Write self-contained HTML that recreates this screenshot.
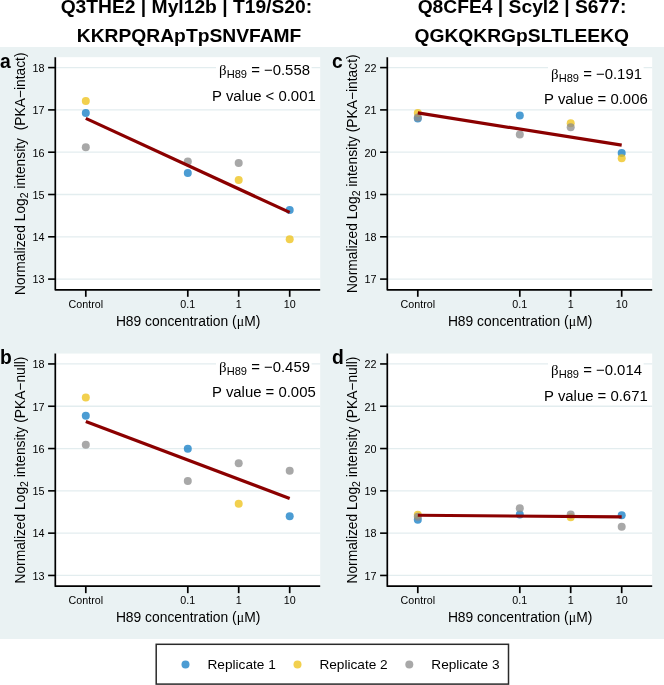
<!DOCTYPE html>
<html lang="en"><head><meta charset="utf-8"><title>H89 dose response</title>
<style>
html,body{margin:0;padding:0;background:#fff;}
svg{display:block;font-family:"Liberation Sans", sans-serif;fill:#000;}
svg text{fill:#000;}
</style></head><body>
<svg width="664" height="685" viewBox="0 0 664 685">
<rect x="0" y="0" width="664" height="685" fill="#fff"/>
<rect x="0" y="47" width="664" height="592" fill="#eaf2f3"/>
<text x="186.4" y="13.2" font-size="19.25" font-weight="bold" text-anchor="middle">Q3THE2 | Myl12b | T19/S20:</text>
<text x="189.1" y="41.7" font-size="19.25" font-weight="bold" text-anchor="middle">KKRPQRApTpSNVFAMF</text>
<text x="522" y="13.2" font-size="19.25" font-weight="bold" text-anchor="middle">Q8CFE4 | Scyl2 | S677:</text>
<text x="521.8" y="41.7" font-size="19.25" font-weight="bold" text-anchor="middle">QGKQKRGpSLTLEEKQ</text>

<g transform="translate(0,47)">
<rect x="55.3" y="10.2" width="264.9" height="232.7" fill="#fff"/>
<line x1="55.3" x2="320.2" y1="20.60" y2="20.60" stroke="#e3edef" stroke-width="1.3"/>
<line x1="55.3" x2="320.2" y1="62.90" y2="62.90" stroke="#e3edef" stroke-width="1.3"/>
<line x1="55.3" x2="320.2" y1="105.20" y2="105.20" stroke="#e3edef" stroke-width="1.3"/>
<line x1="55.3" x2="320.2" y1="147.50" y2="147.50" stroke="#e3edef" stroke-width="1.3"/>
<line x1="55.3" x2="320.2" y1="189.80" y2="189.80" stroke="#e3edef" stroke-width="1.3"/>
<line x1="55.3" x2="320.2" y1="232.10" y2="232.10" stroke="#e3edef" stroke-width="1.3"/>
<rect x="216" y="14.4" width="95.6" height="19" fill="#fff"/>
<circle cx="85.8" cy="66.1" r="4" fill="#0f7bc4" fill-opacity="0.75"/>
<circle cx="85.8" cy="53.9" r="4" fill="#eec013" fill-opacity="0.75"/>
<circle cx="85.8" cy="100.2" r="4" fill="#8b8b8b" fill-opacity="0.75"/>
<circle cx="187.8" cy="125.9" r="4" fill="#0f7bc4" fill-opacity="0.75"/>
<circle cx="187.8" cy="114.6" r="4" fill="#8b8b8b" fill-opacity="0.75"/>
<circle cx="238.7" cy="132.9" r="4" fill="#eec013" fill-opacity="0.75"/>
<circle cx="238.7" cy="116.0" r="4" fill="#8b8b8b" fill-opacity="0.75"/>
<circle cx="289.7" cy="163.0" r="4" fill="#0f7bc4" fill-opacity="0.75"/>
<circle cx="289.7" cy="192.2" r="4" fill="#eec013" fill-opacity="0.75"/>
<line x1="85.8" y1="71.4" x2="289.7" y2="165.4" stroke="#8b0000" stroke-width="3.2"/>
<path d="M55.3 10.2V242.85H320.2" fill="none" stroke="#000" stroke-width="1.7" stroke-linejoin="round"/>
<line x1="48.1" x2="55.3" y1="20.60" y2="20.60" stroke="#000" stroke-width="1.6"/>
<text x="44.4" y="24.95" font-size="10.8" text-anchor="end">18</text>
<line x1="48.1" x2="55.3" y1="62.90" y2="62.90" stroke="#000" stroke-width="1.6"/>
<text x="44.4" y="67.25" font-size="10.8" text-anchor="end">17</text>
<line x1="48.1" x2="55.3" y1="105.20" y2="105.20" stroke="#000" stroke-width="1.6"/>
<text x="44.4" y="109.55" font-size="10.8" text-anchor="end">16</text>
<line x1="48.1" x2="55.3" y1="147.50" y2="147.50" stroke="#000" stroke-width="1.6"/>
<text x="44.4" y="151.85" font-size="10.8" text-anchor="end">15</text>
<line x1="48.1" x2="55.3" y1="189.80" y2="189.80" stroke="#000" stroke-width="1.6"/>
<text x="44.4" y="194.15" font-size="10.8" text-anchor="end">14</text>
<line x1="48.1" x2="55.3" y1="232.10" y2="232.10" stroke="#000" stroke-width="1.6"/>
<text x="44.4" y="236.45" font-size="10.8" text-anchor="end">13</text>
<line x1="85.8" x2="85.8" y1="242.85" y2="249.8" stroke="#000" stroke-width="1.7"/>
<text x="85.8" y="260.9" font-size="10.7" text-anchor="middle">Control</text>
<line x1="187.8" x2="187.8" y1="242.85" y2="249.8" stroke="#000" stroke-width="1.7"/>
<text x="187.8" y="260.9" font-size="10.7" text-anchor="middle">0.1</text>
<line x1="238.7" x2="238.7" y1="242.85" y2="249.8" stroke="#000" stroke-width="1.7"/>
<text x="238.7" y="260.9" font-size="10.7" text-anchor="middle">1</text>
<line x1="289.7" x2="289.7" y1="242.85" y2="249.8" stroke="#000" stroke-width="1.7"/>
<text x="289.7" y="260.9" font-size="10.7" text-anchor="middle">10</text>
<text x="188.1" y="278.5" font-size="13.85" text-anchor="middle">H89 concentration (<tspan font-family='"Liberation Serif", serif'>μ</tspan>M)</text>
<text transform="translate(25.0,126.7) rotate(-90)" font-size="13.8" text-anchor="middle">Normalized Log<tspan font-size="10.4" dy="2.7">2</tspan><tspan dy="-2.7"> intensity &#160;(PKA−intact)</tspan></text>
<text x="0.1" y="20.5" font-size="19.3" font-weight="bold">a</text>
<text x="219.1" y="27.9" font-size="14.9"><tspan font-family='"Liberation Serif", serif'>β</tspan><tspan font-size="11.1" dy="3.3">H89</tspan><tspan dy="-3.3"> = −0.558</tspan></text>
<text x="263.9" y="53.5" font-size="14.9" text-anchor="middle">P value &lt; 0.001</text>
</g>
<g transform="translate(0,343.35)">
<rect x="55.3" y="10.2" width="264.9" height="232.7" fill="#fff"/>
<line x1="55.3" x2="320.2" y1="20.60" y2="20.60" stroke="#e3edef" stroke-width="1.3"/>
<line x1="55.3" x2="320.2" y1="62.90" y2="62.90" stroke="#e3edef" stroke-width="1.3"/>
<line x1="55.3" x2="320.2" y1="105.20" y2="105.20" stroke="#e3edef" stroke-width="1.3"/>
<line x1="55.3" x2="320.2" y1="147.50" y2="147.50" stroke="#e3edef" stroke-width="1.3"/>
<line x1="55.3" x2="320.2" y1="189.80" y2="189.80" stroke="#e3edef" stroke-width="1.3"/>
<line x1="55.3" x2="320.2" y1="232.10" y2="232.10" stroke="#e3edef" stroke-width="1.3"/>
<rect x="216" y="14.7" width="95.6" height="19" fill="#fff"/>
<circle cx="85.8" cy="72.5" r="4" fill="#0f7bc4" fill-opacity="0.75"/>
<circle cx="85.8" cy="54.1" r="4" fill="#eec013" fill-opacity="0.75"/>
<circle cx="85.8" cy="101.3" r="4" fill="#8b8b8b" fill-opacity="0.75"/>
<circle cx="187.8" cy="105.5" r="4" fill="#0f7bc4" fill-opacity="0.75"/>
<circle cx="187.8" cy="137.6" r="4" fill="#8b8b8b" fill-opacity="0.75"/>
<circle cx="238.7" cy="160.3" r="4" fill="#eec013" fill-opacity="0.75"/>
<circle cx="238.7" cy="120.0" r="4" fill="#8b8b8b" fill-opacity="0.75"/>
<circle cx="289.7" cy="172.9" r="4" fill="#0f7bc4" fill-opacity="0.75"/>
<circle cx="289.7" cy="127.4" r="4" fill="#8b8b8b" fill-opacity="0.75"/>
<line x1="85.8" y1="78.2" x2="289.7" y2="155.2" stroke="#8b0000" stroke-width="3.2"/>
<path d="M55.3 10.2V242.85H320.2" fill="none" stroke="#000" stroke-width="1.7" stroke-linejoin="round"/>
<line x1="48.1" x2="55.3" y1="20.60" y2="20.60" stroke="#000" stroke-width="1.6"/>
<text x="44.4" y="24.95" font-size="10.8" text-anchor="end">18</text>
<line x1="48.1" x2="55.3" y1="62.90" y2="62.90" stroke="#000" stroke-width="1.6"/>
<text x="44.4" y="67.25" font-size="10.8" text-anchor="end">17</text>
<line x1="48.1" x2="55.3" y1="105.20" y2="105.20" stroke="#000" stroke-width="1.6"/>
<text x="44.4" y="109.55" font-size="10.8" text-anchor="end">16</text>
<line x1="48.1" x2="55.3" y1="147.50" y2="147.50" stroke="#000" stroke-width="1.6"/>
<text x="44.4" y="151.85" font-size="10.8" text-anchor="end">15</text>
<line x1="48.1" x2="55.3" y1="189.80" y2="189.80" stroke="#000" stroke-width="1.6"/>
<text x="44.4" y="194.15" font-size="10.8" text-anchor="end">14</text>
<line x1="48.1" x2="55.3" y1="232.10" y2="232.10" stroke="#000" stroke-width="1.6"/>
<text x="44.4" y="236.45" font-size="10.8" text-anchor="end">13</text>
<line x1="85.8" x2="85.8" y1="242.85" y2="249.8" stroke="#000" stroke-width="1.7"/>
<text x="85.8" y="260.9" font-size="10.7" text-anchor="middle">Control</text>
<line x1="187.8" x2="187.8" y1="242.85" y2="249.8" stroke="#000" stroke-width="1.7"/>
<text x="187.8" y="260.9" font-size="10.7" text-anchor="middle">0.1</text>
<line x1="238.7" x2="238.7" y1="242.85" y2="249.8" stroke="#000" stroke-width="1.7"/>
<text x="238.7" y="260.9" font-size="10.7" text-anchor="middle">1</text>
<line x1="289.7" x2="289.7" y1="242.85" y2="249.8" stroke="#000" stroke-width="1.7"/>
<text x="289.7" y="260.9" font-size="10.7" text-anchor="middle">10</text>
<text x="188.1" y="278.5" font-size="13.85" text-anchor="middle">H89 concentration (<tspan font-family='"Liberation Serif", serif'>μ</tspan>M)</text>
<text transform="translate(25.0,126.7) rotate(-90)" font-size="13.8" text-anchor="middle">Normalized Log<tspan font-size="10.4" dy="2.7">2</tspan><tspan dy="-2.7"> intensity (PKA−null)</tspan></text>
<text x="0.1" y="20.5" font-size="19.3" font-weight="bold">b</text>
<text x="219.1" y="28.2" font-size="14.9"><tspan font-family='"Liberation Serif", serif'>β</tspan><tspan font-size="11.1" dy="3.3">H89</tspan><tspan dy="-3.3"> = −0.459</tspan></text>
<text x="263.9" y="53.8" font-size="14.9" text-anchor="middle">P value = 0.005</text>
</g>
<g transform="translate(332,47)">
<rect x="55.3" y="10.2" width="264.9" height="232.7" fill="#fff"/>
<line x1="55.3" x2="320.2" y1="20.60" y2="20.60" stroke="#e3edef" stroke-width="1.3"/>
<line x1="55.3" x2="320.2" y1="62.90" y2="62.90" stroke="#e3edef" stroke-width="1.3"/>
<line x1="55.3" x2="320.2" y1="105.20" y2="105.20" stroke="#e3edef" stroke-width="1.3"/>
<line x1="55.3" x2="320.2" y1="147.50" y2="147.50" stroke="#e3edef" stroke-width="1.3"/>
<line x1="55.3" x2="320.2" y1="189.80" y2="189.80" stroke="#e3edef" stroke-width="1.3"/>
<line x1="55.3" x2="320.2" y1="232.10" y2="232.10" stroke="#e3edef" stroke-width="1.3"/>
<rect x="216" y="18.0" width="95.6" height="19" fill="#fff"/>
<circle cx="85.8" cy="71.6" r="4" fill="#0f7bc4" fill-opacity="0.75"/>
<circle cx="85.8" cy="66.0" r="4" fill="#eec013" fill-opacity="0.75"/>
<circle cx="85.8" cy="70.6" r="4" fill="#8b8b8b" fill-opacity="0.75"/>
<circle cx="187.8" cy="68.5" r="4" fill="#0f7bc4" fill-opacity="0.75"/>
<circle cx="187.8" cy="87.5" r="4" fill="#8b8b8b" fill-opacity="0.75"/>
<circle cx="238.7" cy="76.3" r="4" fill="#eec013" fill-opacity="0.75"/>
<circle cx="238.7" cy="80.3" r="4" fill="#8b8b8b" fill-opacity="0.75"/>
<circle cx="289.7" cy="105.9" r="4" fill="#0f7bc4" fill-opacity="0.75"/>
<circle cx="289.7" cy="111.3" r="4" fill="#eec013" fill-opacity="0.75"/>
<line x1="85.8" y1="65.9" x2="289.7" y2="98.2" stroke="#8b0000" stroke-width="3.2"/>
<path d="M55.3 10.2V242.85H320.2" fill="none" stroke="#000" stroke-width="1.7" stroke-linejoin="round"/>
<line x1="48.1" x2="55.3" y1="20.60" y2="20.60" stroke="#000" stroke-width="1.6"/>
<text x="44.4" y="24.95" font-size="10.8" text-anchor="end">22</text>
<line x1="48.1" x2="55.3" y1="62.90" y2="62.90" stroke="#000" stroke-width="1.6"/>
<text x="44.4" y="67.25" font-size="10.8" text-anchor="end">21</text>
<line x1="48.1" x2="55.3" y1="105.20" y2="105.20" stroke="#000" stroke-width="1.6"/>
<text x="44.4" y="109.55" font-size="10.8" text-anchor="end">20</text>
<line x1="48.1" x2="55.3" y1="147.50" y2="147.50" stroke="#000" stroke-width="1.6"/>
<text x="44.4" y="151.85" font-size="10.8" text-anchor="end">19</text>
<line x1="48.1" x2="55.3" y1="189.80" y2="189.80" stroke="#000" stroke-width="1.6"/>
<text x="44.4" y="194.15" font-size="10.8" text-anchor="end">18</text>
<line x1="48.1" x2="55.3" y1="232.10" y2="232.10" stroke="#000" stroke-width="1.6"/>
<text x="44.4" y="236.45" font-size="10.8" text-anchor="end">17</text>
<line x1="85.8" x2="85.8" y1="242.85" y2="249.8" stroke="#000" stroke-width="1.7"/>
<text x="85.8" y="260.9" font-size="10.7" text-anchor="middle">Control</text>
<line x1="187.8" x2="187.8" y1="242.85" y2="249.8" stroke="#000" stroke-width="1.7"/>
<text x="187.8" y="260.9" font-size="10.7" text-anchor="middle">0.1</text>
<line x1="238.7" x2="238.7" y1="242.85" y2="249.8" stroke="#000" stroke-width="1.7"/>
<text x="238.7" y="260.9" font-size="10.7" text-anchor="middle">1</text>
<line x1="289.7" x2="289.7" y1="242.85" y2="249.8" stroke="#000" stroke-width="1.7"/>
<text x="289.7" y="260.9" font-size="10.7" text-anchor="middle">10</text>
<text x="188.1" y="278.5" font-size="13.85" text-anchor="middle">H89 concentration (<tspan font-family='"Liberation Serif", serif'>μ</tspan>M)</text>
<text transform="translate(25.0,126.7) rotate(-90)" font-size="13.8" text-anchor="middle">Normalized Log<tspan font-size="10.4" dy="2.7">2</tspan><tspan dy="-2.7"> intensity (PKA−intact)</tspan></text>
<text x="0.1" y="20.5" font-size="19.3" font-weight="bold">c</text>
<text x="219.1" y="31.5" font-size="14.9"><tspan font-family='"Liberation Serif", serif'>β</tspan><tspan font-size="11.1" dy="3.3">H89</tspan><tspan dy="-3.3"> = −0.191</tspan></text>
<text x="263.9" y="57.1" font-size="14.9" text-anchor="middle">P value = 0.006</text>
</g>
<g transform="translate(332,343.35)">
<rect x="55.3" y="10.2" width="264.9" height="232.7" fill="#fff"/>
<line x1="55.3" x2="320.2" y1="20.60" y2="20.60" stroke="#e3edef" stroke-width="1.3"/>
<line x1="55.3" x2="320.2" y1="62.90" y2="62.90" stroke="#e3edef" stroke-width="1.3"/>
<line x1="55.3" x2="320.2" y1="105.20" y2="105.20" stroke="#e3edef" stroke-width="1.3"/>
<line x1="55.3" x2="320.2" y1="147.50" y2="147.50" stroke="#e3edef" stroke-width="1.3"/>
<line x1="55.3" x2="320.2" y1="189.80" y2="189.80" stroke="#e3edef" stroke-width="1.3"/>
<line x1="55.3" x2="320.2" y1="232.10" y2="232.10" stroke="#e3edef" stroke-width="1.3"/>
<rect x="216" y="18.3" width="95.6" height="19" fill="#fff"/>
<circle cx="85.8" cy="176.4" r="4" fill="#0f7bc4" fill-opacity="0.75"/>
<circle cx="85.8" cy="171.4" r="4" fill="#eec013" fill-opacity="0.75"/>
<circle cx="85.8" cy="173.5" r="4" fill="#8b8b8b" fill-opacity="0.75"/>
<circle cx="187.8" cy="171.2" r="4" fill="#0f7bc4" fill-opacity="0.75"/>
<circle cx="187.8" cy="164.9" r="4" fill="#8b8b8b" fill-opacity="0.75"/>
<circle cx="238.7" cy="173.9" r="4" fill="#eec013" fill-opacity="0.75"/>
<circle cx="238.7" cy="171.2" r="4" fill="#8b8b8b" fill-opacity="0.75"/>
<circle cx="289.7" cy="171.9" r="4" fill="#0f7bc4" fill-opacity="0.75"/>
<circle cx="289.7" cy="183.4" r="4" fill="#8b8b8b" fill-opacity="0.75"/>
<line x1="85.8" y1="171.9" x2="289.7" y2="173.6" stroke="#8b0000" stroke-width="3.2"/>
<path d="M55.3 10.2V242.85H320.2" fill="none" stroke="#000" stroke-width="1.7" stroke-linejoin="round"/>
<line x1="48.1" x2="55.3" y1="20.60" y2="20.60" stroke="#000" stroke-width="1.6"/>
<text x="44.4" y="24.95" font-size="10.8" text-anchor="end">22</text>
<line x1="48.1" x2="55.3" y1="62.90" y2="62.90" stroke="#000" stroke-width="1.6"/>
<text x="44.4" y="67.25" font-size="10.8" text-anchor="end">21</text>
<line x1="48.1" x2="55.3" y1="105.20" y2="105.20" stroke="#000" stroke-width="1.6"/>
<text x="44.4" y="109.55" font-size="10.8" text-anchor="end">20</text>
<line x1="48.1" x2="55.3" y1="147.50" y2="147.50" stroke="#000" stroke-width="1.6"/>
<text x="44.4" y="151.85" font-size="10.8" text-anchor="end">19</text>
<line x1="48.1" x2="55.3" y1="189.80" y2="189.80" stroke="#000" stroke-width="1.6"/>
<text x="44.4" y="194.15" font-size="10.8" text-anchor="end">18</text>
<line x1="48.1" x2="55.3" y1="232.10" y2="232.10" stroke="#000" stroke-width="1.6"/>
<text x="44.4" y="236.45" font-size="10.8" text-anchor="end">17</text>
<line x1="85.8" x2="85.8" y1="242.85" y2="249.8" stroke="#000" stroke-width="1.7"/>
<text x="85.8" y="260.9" font-size="10.7" text-anchor="middle">Control</text>
<line x1="187.8" x2="187.8" y1="242.85" y2="249.8" stroke="#000" stroke-width="1.7"/>
<text x="187.8" y="260.9" font-size="10.7" text-anchor="middle">0.1</text>
<line x1="238.7" x2="238.7" y1="242.85" y2="249.8" stroke="#000" stroke-width="1.7"/>
<text x="238.7" y="260.9" font-size="10.7" text-anchor="middle">1</text>
<line x1="289.7" x2="289.7" y1="242.85" y2="249.8" stroke="#000" stroke-width="1.7"/>
<text x="289.7" y="260.9" font-size="10.7" text-anchor="middle">10</text>
<text x="188.1" y="278.5" font-size="13.85" text-anchor="middle">H89 concentration (<tspan font-family='"Liberation Serif", serif'>μ</tspan>M)</text>
<text transform="translate(25.0,126.7) rotate(-90)" font-size="13.8" text-anchor="middle">Normalized Log<tspan font-size="10.4" dy="2.7">2</tspan><tspan dy="-2.7"> intensity (PKA−null)</tspan></text>
<text x="0.1" y="20.5" font-size="19.3" font-weight="bold">d</text>
<text x="219.1" y="31.8" font-size="14.9"><tspan font-family='"Liberation Serif", serif'>β</tspan><tspan font-size="11.1" dy="3.3">H89</tspan><tspan dy="-3.3"> = −0.014</tspan></text>
<text x="263.9" y="57.4" font-size="14.9" text-anchor="middle">P value = 0.671</text>
</g>
<rect x="156.2" y="644.3" width="352.3" height="39.8" fill="#fff" stroke="#2a2a2a" stroke-width="1.5"/>
<circle cx="185.5" cy="664.6" r="4" fill="#0f7bc4" fill-opacity="0.75"/>
<text x="207.5" y="669.2" font-size="13.65">Replicate 1</text>
<circle cx="297.5" cy="664.6" r="4" fill="#eec013" fill-opacity="0.75"/>
<text x="319.4" y="669.2" font-size="13.65">Replicate 2</text>
<circle cx="409.3" cy="664.6" r="4" fill="#8b8b8b" fill-opacity="0.75"/>
<text x="431.3" y="669.2" font-size="13.65">Replicate 3</text>
</svg>
</body></html>
